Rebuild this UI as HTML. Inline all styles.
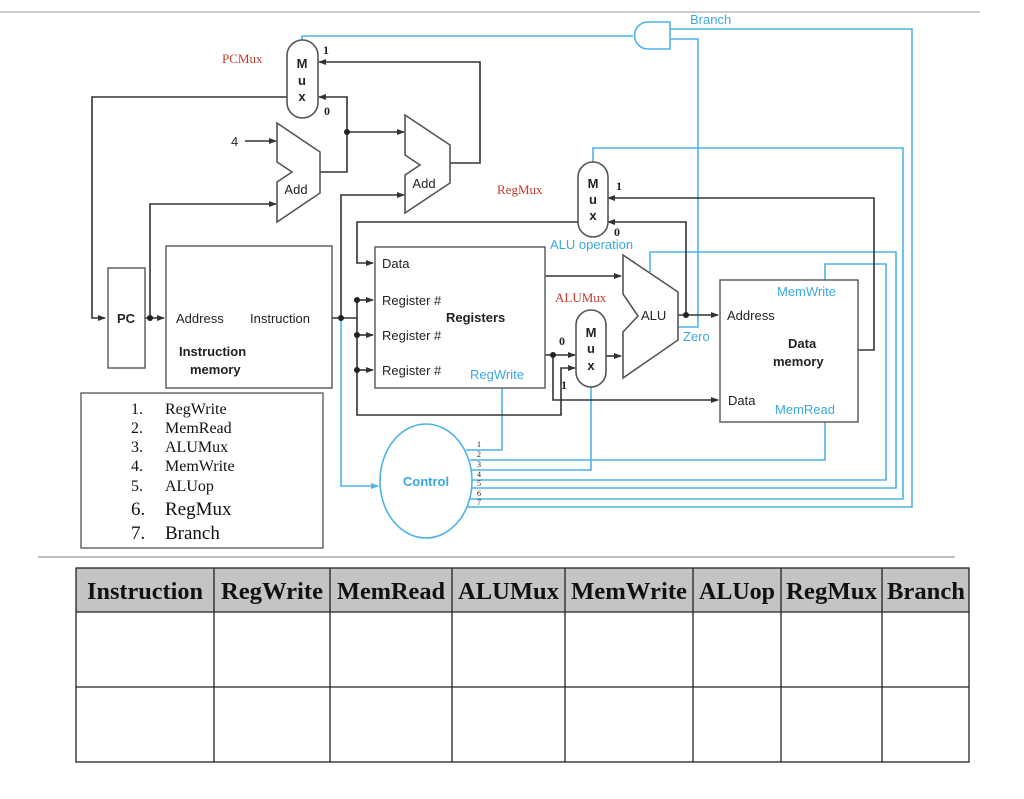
<!DOCTYPE html>
<html><head><meta charset="utf-8"><style>
html,body{margin:0;padding:0;background:#fff;}
svg{display:block;}
.b{fill:none;stroke:#333;stroke-width:1.6;}
.c{fill:none;stroke:#4db3e6;stroke-width:1.6;}
.s{font-family:"Liberation Sans",sans-serif;font-size:13px;fill:#222;}
.sb{font-family:"Liberation Sans",sans-serif;font-size:13px;font-weight:bold;fill:#222;}
.bl{font-family:"Liberation Sans",sans-serif;font-size:13px;fill:#3aa8e0;}
.red{font-family:"Liberation Serif",serif;font-size:13px;fill:#c0392b;}
.n{font-family:"Liberation Serif",serif;font-size:12px;font-weight:bold;fill:#222;}
.lg{font-family:"Liberation Serif",serif;font-size:16px;fill:#111;}
.th{font-family:"Liberation Serif",serif;font-size:24px;font-weight:bold;fill:#111;}
.tn{font-family:"Liberation Serif",serif;font-size:8px;fill:#222;}
</style></head><body>
<svg width="1024" height="799" viewBox="0 0 1024 799" xmlns="http://www.w3.org/2000/svg">
<defs>
<marker id="a" markerWidth="8" markerHeight="6" refX="7" refY="3" orient="auto" markerUnits="userSpaceOnUse"><path d="M0,0 L8,3 L0,6 z" fill="#333"/></marker>
<marker id="ab" markerWidth="8" markerHeight="6" refX="7" refY="3" orient="auto" markerUnits="userSpaceOnUse"><path d="M0,0 L8,3 L0,6 z" fill="#4db3e6"/></marker>
</defs>
<line x1="0" y1="12" x2="980" y2="12" stroke="#bbb" stroke-width="1.5"/>
<line x1="38" y1="557" x2="955" y2="557" stroke="#999" stroke-width="1.2"/>

<path class="c" d="M633,36 H302 V40"/>
<path class="c" d="M670,29 H912 V507 H466"/>
<path class="c" d="M670,39 H698 V327 H678"/>
<path class="c" d="M593,163 V148 H903 V499 H468"/>
<path class="c" d="M650,272 V252 H896 V488 H470"/>
<path class="c" d="M825,280 V264 H886 V480 H471"/>
<path class="c" d="M825,422 V460 H470"/>
<path class="c" d="M591,386 V470 H471"/>
<path class="c" d="M502,388 V450 H466"/>
<path class="c" d="M341,318 V486 H378" marker-end="url(#ab)"/>
<ellipse cx="426" cy="481" rx="46" ry="57" fill="#fff" stroke="#4db3e6" stroke-width="1.6"/>
<text x="426" y="486" text-anchor="middle" class="bl" font-weight="bold" font-size="14">Control</text>
<g class="tn"><text x="477" y="447">1</text><text x="477" y="457">2</text><text x="477" y="467">3</text><text x="477" y="477">4</text><text x="477" y="486">5</text><text x="477" y="496">6</text><text x="477" y="505">7</text></g>

<path d="M670,22 H648 A13.5,13.5 0 0 0 648,49 H670 Z" fill="#fff" stroke="#4db3e6" stroke-width="1.6"/>
<text x="690" y="24" class="bl">Branch</text>

<path class="b" d="M287,97 H92 V318 H105" marker-end="url(#a)"/>
<path class="b" d="M150,318 V204 H276" marker-end="url(#a)"/>
<path class="b" d="M145,318 H164" marker-end="url(#a)"/>
<circle cx="150" cy="318" r="3" fill="#222"/>
<path class="b" d="M245,141 H276" marker-end="url(#a)"/>
<path class="b" d="M320,172 H347 V97 H319" marker-end="url(#a)"/>
<path class="b" d="M347,132 H404" marker-end="url(#a)"/>
<circle cx="347" cy="132" r="3" fill="#222"/>
<path class="b" d="M450,163 H480 V62 H319" marker-end="url(#a)"/>
<path class="b" d="M332,318 H357"/>
<path class="b" d="M341,318 V195 H404" marker-end="url(#a)"/>
<circle cx="341" cy="318" r="3" fill="#222"/>
<path class="b" d="M357,300 V415 H561 V368 H575" marker-end="url(#a)"/>
<path class="b" d="M357,300 H373" marker-end="url(#a)"/>
<path class="b" d="M357,335 H373" marker-end="url(#a)"/>
<path class="b" d="M357,370 H373" marker-end="url(#a)"/>
<circle cx="357" cy="300" r="3" fill="#222"/><circle cx="357" cy="335" r="3" fill="#222"/><circle cx="357" cy="370" r="3" fill="#222"/>
<path class="b" d="M578,222 H357 V263 H373" marker-end="url(#a)"/>
<path class="b" d="M545,276 H621" marker-end="url(#a)"/>
<path class="b" d="M545,355 H575" marker-end="url(#a)"/>
<path class="b" d="M553,355 V400 H718" marker-end="url(#a)"/>
<circle cx="553" cy="355" r="3" fill="#222"/>
<path class="b" d="M606,356 H621" marker-end="url(#a)"/>
<path class="b" d="M678,315 H718" marker-end="url(#a)"/>
<path class="b" d="M686,315 V222 H608" marker-end="url(#a)"/>
<circle cx="686" cy="315" r="3" fill="#222"/>
<path class="b" d="M858,350 H874 V198 H608" marker-end="url(#a)"/>

<rect x="287" y="40" width="31" height="78" rx="15.5" fill="#fff" stroke="#555" stroke-width="1.6"/>
<text x="302" y="68" text-anchor="middle" class="sb">M</text><text x="302" y="85" text-anchor="middle" class="sb">u</text><text x="302" y="101" text-anchor="middle" class="sb">x</text>
<text x="323" y="54" class="n">1</text><text x="324" y="115" class="n">0</text>
<text x="222" y="63" class="red">PCMux</text>

<polygon points="277,123 320,152 320,193 277,222 277,182 292,172 277,162" fill="#fff" stroke="#555" stroke-width="1.6"/>
<text x="296" y="194" text-anchor="middle" class="s">Add</text>
<text x="231" y="146" class="s">4</text>
<polygon points="405,115 450,145 450,183 405,213 405,175 420,165 405,155" fill="#fff" stroke="#555" stroke-width="1.6"/>
<text x="424" y="188" text-anchor="middle" class="s">Add</text>

<rect x="578" y="162" width="30" height="75" rx="15" fill="#fff" stroke="#555" stroke-width="1.6"/>
<text x="593" y="188" text-anchor="middle" class="sb">M</text><text x="593" y="204" text-anchor="middle" class="sb">u</text><text x="593" y="220" text-anchor="middle" class="sb">x</text>
<text x="616" y="190" class="n">1</text><text x="614" y="236" class="n">0</text>
<text x="497" y="194" class="red">RegMux</text>
<text x="550" y="249" class="bl">ALU operation</text>

<rect x="108" y="268" width="37" height="100" fill="#fff" stroke="#555" stroke-width="1.4"/>
<text x="126" y="323" text-anchor="middle" class="sb">PC</text>

<rect x="166" y="246" width="166" height="142" fill="#fff" stroke="#555" stroke-width="1.4"/>
<text x="176" y="323" class="s">Address</text><text x="250" y="323" class="s">Instruction</text>
<text x="179" y="356" class="sb">Instruction</text><text x="190" y="374" class="sb">memory</text>

<rect x="375" y="247" width="170" height="141" fill="#fff" stroke="#555" stroke-width="1.4"/>
<text x="382" y="268" class="s">Data</text>
<text x="382" y="305" class="s">Register #</text>
<text x="382" y="340" class="s">Register #</text>
<text x="382" y="375" class="s">Register #</text>
<text x="446" y="322" class="sb">Registers</text>
<text x="470" y="379" class="bl">RegWrite</text>

<rect x="576" y="310" width="30" height="77" rx="15" fill="#fff" stroke="#555" stroke-width="1.6"/>
<text x="591" y="337" text-anchor="middle" class="sb">M</text><text x="591" y="353" text-anchor="middle" class="sb">u</text><text x="591" y="370" text-anchor="middle" class="sb">x</text>
<text x="559" y="345" class="n">0</text><text x="561" y="389" class="n">1</text>
<text x="555" y="302" class="red">ALUMux</text>

<polygon points="623,255 678,292 678,340 623,378 623,332 638,316 623,294" fill="#fff" stroke="#555" stroke-width="1.6"/>
<text x="641" y="320" class="s">ALU</text>
<text x="683" y="341" class="bl">Zero</text>

<rect x="720" y="280" width="138" height="142" fill="#fff" stroke="#555" stroke-width="1.4"/>
<text x="777" y="296" class="bl">MemWrite</text>
<text x="727" y="320" class="s">Address</text>
<text x="788" y="348" class="sb">Data</text><text x="773" y="366" class="sb">memory</text>
<text x="728" y="405" class="s">Data</text>
<text x="775" y="414" class="bl">MemRead</text>

<rect x="81" y="393" width="242" height="155" fill="#fff" stroke="#444" stroke-width="1.2"/>
<g class="lg">
<text x="131" y="414">1.</text><text x="165" y="414">RegWrite</text>
<text x="131" y="433">2.</text><text x="165" y="433">MemRead</text>
<text x="131" y="452">3.</text><text x="165" y="452">ALUMux</text>
<text x="131" y="471">4.</text><text x="165" y="471">MemWrite</text>
<text x="131" y="491">5.</text><text x="165" y="491">ALUop</text>
<text x="131" y="515" font-size="19">6.</text><text x="165" y="515" font-size="19">RegMux</text>
<text x="131" y="539" font-size="19">7.</text><text x="165" y="539" font-size="19">Branch</text>
</g>

<rect x="76" y="568" width="893" height="44" fill="#c4c4c4"/>
<g stroke="#222" stroke-width="1.3" fill="none">
<rect x="76" y="568" width="893" height="194"/>
<line x1="76" y1="612" x2="969" y2="612"/>
<line x1="76" y1="687" x2="969" y2="687"/>
<line x1="214" y1="568" x2="214" y2="762"/>
<line x1="330" y1="568" x2="330" y2="762"/>
<line x1="452" y1="568" x2="452" y2="762"/>
<line x1="565" y1="568" x2="565" y2="762"/>
<line x1="693" y1="568" x2="693" y2="762"/>
<line x1="781" y1="568" x2="781" y2="762"/>
<line x1="882" y1="568" x2="882" y2="762"/>
</g>
<g class="th">
<text x="87" y="599" textLength="116" lengthAdjust="spacingAndGlyphs">Instruction</text>
<text x="221" y="599" textLength="102" lengthAdjust="spacingAndGlyphs">RegWrite</text>
<text x="337" y="599" textLength="108" lengthAdjust="spacingAndGlyphs">MemRead</text>
<text x="458" y="599" textLength="101" lengthAdjust="spacingAndGlyphs">ALUMux</text>
<text x="571" y="599" textLength="116" lengthAdjust="spacingAndGlyphs">MemWrite</text>
<text x="699" y="599" textLength="76" lengthAdjust="spacingAndGlyphs">ALUop</text>
<text x="786" y="599" textLength="91" lengthAdjust="spacingAndGlyphs">RegMux</text>
<text x="887" y="599" textLength="78" lengthAdjust="spacingAndGlyphs">Branch</text>
</g>
</svg>
</body></html>
